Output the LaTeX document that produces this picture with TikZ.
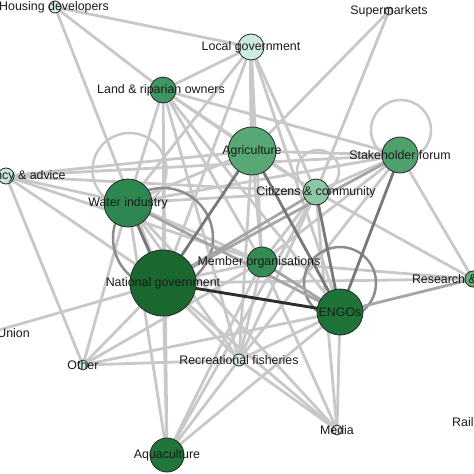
\documentclass[tikz,border=0pt]{standalone}
\usepackage{fontspec}
\setmainfont{Liberation Sans}
\definecolor{elight}{RGB}{200,200,200}
\definecolor{emid}{RGB}{165,165,165}
\definecolor{edark}{RGB}{120,120,120}
\definecolor{eblack}{RGB}{45,45,45}
\definecolor{cnat}{RGB}{26,104,48}
\definecolor{cengo}{RGB}{30,115,55}
\definecolor{caqua}{RGB}{32,118,58}
\definecolor{cwater}{RGB}{46,135,80}
\definecolor{cmem}{RGB}{52,140,85}
\definecolor{cland}{RGB}{64,150,98}
\definecolor{cagri}{RGB}{88,168,118}
\definecolor{cstake}{RGB}{80,160,110}
\definecolor{cres}{RGB}{100,170,125}
\definecolor{ccit}{RGB}{140,200,165}
\definecolor{clg}{RGB}{205,235,222}
\definecolor{ccons}{RGB}{200,232,215}
\definecolor{csmall}{RGB}{212,236,224}
\pgfdeclarelayer{background}
\pgfsetlayers{background,main}
\begin{document}
\begin{tikzpicture}[x=1pt,y=-1pt,
  vtx/.style={circle,draw=black!85,line width=0.8pt,inner sep=0pt,outer sep=0pt},
  lab/.style={font=\fontsize{12.4}{14}\selectfont,text=black!90,inner sep=0pt},
  el/.style={draw=elight,line width=2.8pt},
  elthick/.style={draw=elight,line width=4.4pt},
  em/.style={draw=emid,line width=2.8pt},
  ed/.style={draw=edark,line width=2.8pt},
  eb/.style={draw=eblack,line width=2.9pt},
  loopl/.style={draw=elight,line width=2.5pt},
  loopd/.style={draw=edark!85!white,line width=2.5pt}]
\useasboundingbox (0,0) rectangle (474,474);
\clip (0,0) rectangle (474,474);
% nodes
\node[vtx,fill=csmall,minimum size=12pt] (hd) at (55,7) {};
\node[vtx,fill=csmall,minimum size=8pt] (sup) at (389,11) {};
\node[vtx,fill=clg,minimum size=26pt] (lg) at (251,47) {};
\node[vtx,fill=cland,minimum size=26pt] (land) at (163,90) {};
\node[vtx,fill=cagri,minimum size=48pt] (agri) at (252,151) {};
\node[vtx,fill=cstake,minimum size=36pt] (stake) at (400,155) {};
\node[vtx,fill=ccit,minimum size=26pt] (cit) at (316,192) {};
\node[vtx,fill=ccons,minimum size=16pt] (cons) at (6,176) {};
\node[vtx,fill=cwater,minimum size=48pt] (water) at (128,203) {};
\node[vtx,fill=cmem,minimum size=30pt] (mem) at (262,262) {};
\node[vtx,fill=cnat,minimum size=66pt] (nat) at (163,283) {};
\node[vtx,fill=cengo,minimum size=46pt] (engo) at (340,312) {};
\node[vtx,fill=cres,minimum size=16pt] (res) at (473,279) {};
\node[vtx,fill=csmall,minimum size=10pt] (eu) at (-15,334) {};
\node[vtx,fill=csmall,minimum size=10pt] (oth) at (83,365) {};
\node[vtx,fill=csmall,minimum size=12pt] (rec) at (239,360) {};
\node[vtx,fill=csmall,minimum size=10pt] (media) at (337,430) {};
\node[vtx,fill=caqua,minimum size=34pt] (aqua) at (167,455) {};
% edges
\begin{pgfonlayer}{background}
\foreach \a/\b in {hd/lg,hd/land,hd/nat,sup/agri,sup/cit,
  lg/land,lg/cit,lg/engo,lg/nat,lg/water,lg/mem,
  land/agri,land/stake,land/cit,land/water,land/nat,land/mem,land/engo,land/rec,land/aqua,
  agri/stake,agri/cit,agri/cons,agri/water,agri/mem,agri/rec,
  stake/cit,stake/water,stake/mem,stake/res,stake/cons,stake/rec,
  cit/water,cit/mem,cit/res,cit/media,cit/cons,cit/rec,cit/aqua,
  water/cons,water/mem,water/rec,water/oth,water/aqua,water/media,
  mem/nat,mem/res,mem/rec,mem/media,mem/cons,mem/oth,mem/aqua,
  nat/res,nat/eu,nat/oth,nat/rec,nat/media,nat/aqua,nat/cons,
  engo/rec,engo/media,engo/aqua,engo/oth,
  oth/cons,oth/rec,rec/media,rec/aqua}
  \draw[el] (\a) -- (\b);
\draw[elthick] (lg) -- (agri);
\draw[loopl] (129.5,170) circle (37);
\draw[loopl] (401,130) circle (30);
\draw[loopl] (318,171) circle (21);
\draw[loopd] (163,238) circle (50);
\draw[loopd] (340,283) circle (36);
\foreach \a/\b in {stake/nat,cit/nat,water/engo,mem/engo,engo/res}
  \draw[em] (\a) -- (\b);
\foreach \a/\b in {agri/nat,agri/engo,water/nat,stake/engo,cit/engo}
  \draw[ed] (\a) -- (\b);
\draw[eb] (nat) -- (engo);
\end{pgfonlayer}
% labels
\node[lab] (l-hd) at (54,7) {Housing developers};
\node[lab] (l-sup) at (sup) {Supermarkets};
\node[lab] (l-lg) at (lg) {Local government};
\node[lab] (l-land) at (161,90) {Land \& riparian owners};
\node[lab] (l-agri) at (agri) {Agriculture};
\node[lab] (l-stake) at (stake) {Stakeholder forum};
\node[lab] (l-cit) at (cit) {Citizens \& community};
\node[lab] (l-cons) at (cons) {Consultancy \& advice};
\node[lab] (l-water) at (water) {Water industry};
\node[lab] (l-mem) at (259,262) {Member organisations};
\node[lab] (l-nat) at (nat) {National government};
\node[lab] (l-engo) at (engo) {ENGOs};
\node[lab] (l-res) at (res) {Research \& academia};
\node[lab] (l-eu) at (eu) {European Union};
\node[lab] (l-oth) at (oth) {Other};
\node[lab] (l-rec) at (rec) {Recreational fisheries};
\node[lab] (l-media) at (media) {Media};
\node[lab] (l-aqua) at (aqua) {Aquaculture};
\node[lab,anchor=west] (l-rail) at (452,422) {Rail};
\end{tikzpicture}
\end{document}
